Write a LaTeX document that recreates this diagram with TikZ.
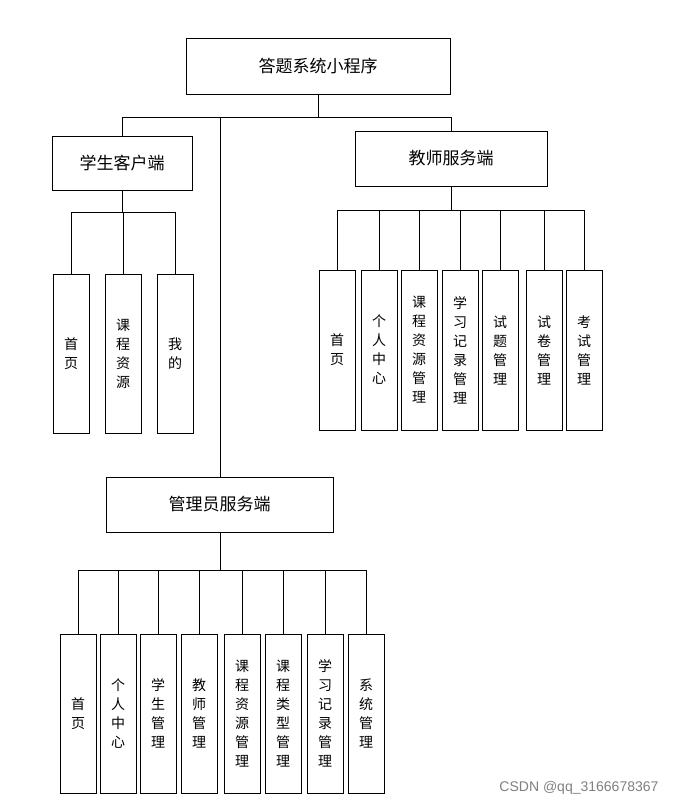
\documentclass[tikz,border=0pt]{standalone}
\usepackage{fontspec}
\newfontfamily\cjk{Noto Sans CJK SC}
\begin{document}
\begin{tikzpicture}[x=1pt,y=-1pt,
  big/.style={draw,line width=0.8pt,font=\cjk\fontsize{17}{20}\selectfont,inner sep=0},
  leaf/.style={draw,line width=0.8pt,minimum width=36pt,minimum height=159pt,font=\cjk\fontsize{14}{19}\selectfont,align=center,inner sep=0},
  ln/.style={line width=0.8pt}]
\useasboundingbox (0,0) rectangle (677,808);
\node[big,minimum width=264pt,minimum height=56pt] (root) at (318,66) {答题系统小程序};
\node[big,minimum width=140pt,minimum height=54pt] (stu) at (122,163) {学生客户端};
\node[big,minimum width=192pt,minimum height=55pt] (tea) at (451,158.5) {教师服务端};
\node[big,minimum width=227pt,minimum height=55pt] (adm) at (219.5,504.5) {管理员服务端};
\coordinate (j) at (318,117);
\draw[ln] (root.south) -- (j);
\draw[ln] (stu.north) -- (122,117) -- (451,117) -- (tea.north);
\draw[ln] (220,117) -- (adm.north -| 220,0);
% student
\foreach \n/\x/\t in {s1/71/首\\页, s2/123/课\\程\\资\\源, s3/175/我\\的}{
  \node[leaf] (\n) at (\x,353.5) {\t};
  \draw[ln] (\n.north) -- (\x,212);}
\draw[ln] (stu.south) -- (122,212);
\draw[ln] (71,212) -- (175,212);
% teacher
\foreach \n/\x/\t in {t1/337/首\\页, t2/379/个\\人\\中\\心, t3/419/课\\程\\资\\源\\管\\理, t4/460/学\\习\\记\\录\\管\\理, t5/500/试\\题\\管\\理, t6/544/试\\卷\\管\\理, t7/584/考\\试\\管\\理}{
  \node[leaf,minimum height=160pt] (\n) at (\x,350) {\t};
  \draw[ln] (\n.north) -- (\x,210);}
\draw[ln] (tea.south) -- (451,210);
\draw[ln] (337,210) -- (584,210);
% admin
\foreach \n/\x/\t in {a1/78/首\\页, a2/118/个\\人\\中\\心, a3/158/学\\生\\管\\理, a4/199/教\\师\\管\\理, a5/242/课\\程\\资\\源\\管\\理, a6/283/课\\程\\类\\型\\管\\理, a7/325/学\\习\\记\\录\\管\\理, a8/366/系\\统\\管\\理}{
  \node[leaf] (\n) at (\x,713.5) {\t};
  \draw[ln] (\n.north) -- (\x,570);}
\draw[ln] (220,532) -- (220,570);
\draw[ln] (78,570) -- (366,570);
\node[font=\fontspec{Liberation Sans}\fontsize{14}{16}\selectfont,text=gray,anchor=east] (wm) at (662,788) {CSDN @qq\_3166678367};
\end{tikzpicture}
\end{document}
